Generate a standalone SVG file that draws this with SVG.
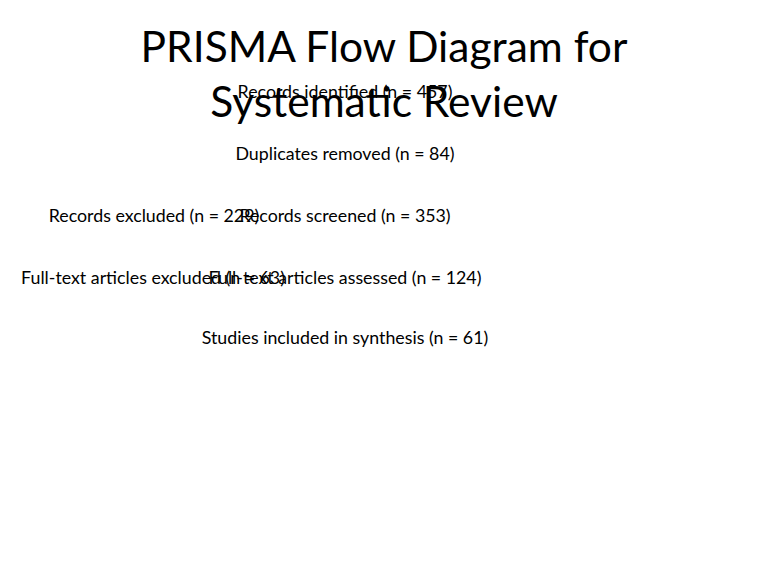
<svg xmlns="http://www.w3.org/2000/svg" width="768" height="576" viewBox="0 0 768 576">
<style>
.t{font-family:Lato,"Liberation Sans",sans-serif;fill:#000;text-anchor:middle}
.title{font-size:42.5px}
.lbl{font-size:17.8px}
</style>
<rect width="768" height="576" fill="#fff"/>
<g id="title"><text class="t title" x="384" y="62">PRISMA Flow Diagram for</text><text class="t title" x="384" y="117">Systematic Review</text></g>
<g id="connectors"></g>
<g id="identified"><text class="t lbl" x="345" y="98">Records identified (n = 457)</text></g>
<g id="duplicates"><text class="t lbl" x="345" y="160">Duplicates removed (n = 84)</text></g>
<g id="excluded"><text class="t lbl" x="154" y="222">Records excluded (n = 229)</text></g>
<g id="screened"><text class="t lbl" x="345" y="222">Records screened (n = 353)</text></g>
<g id="ftexcluded"><text class="t lbl" x="153" y="284">Full-text articles excluded (n = 63)</text></g>
<g id="assessed"><text class="t lbl" x="345" y="284">Full-text articles assessed (n = 124)</text></g>
<g id="included"><text class="t lbl" x="345" y="344">Studies included in synthesis (n = 61)</text></g>
</svg>
